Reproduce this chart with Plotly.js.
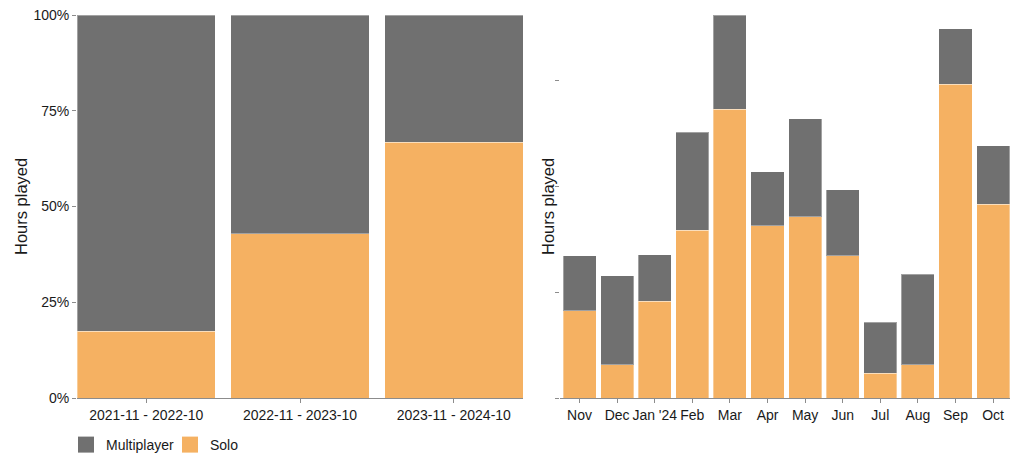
<!DOCTYPE html>
<html>
<head>
<meta charset="utf-8">
<script src="https://cdn.plot.ly/plotly-3.0.1.min.js"></script>
<style>html,body{margin:0;padding:0;background:#fff;}#chart{width:1024px;height:469px;}</style>
</head>
<body>
<div id="chart"></div>
<script>
// Left panel: yearly share of hours played
const periods = ["2021-11 - 2022-10", "2022-11 - 2023-10", "2023-11 - 2024-10"];
const periodSolo = [0.174, 0.429, 0.668];
const periodMulti = [0.826, 0.571, 0.332];

// Right panel: monthly hours played (Nov 2023 - Oct 2024)
const months = ["Nov", "Dec", "Jan '24", "Feb", "Mar", "Apr", "May", "Jun", "Jul", "Aug", "Sep", "Oct"];
const monthSolo = [41.2, 15.7, 45.8, 79.3, 136.6, 81.5, 85.7, 67.2, 11.6, 15.7, 148.4, 91.6];
const monthMulti = [26.1, 42.0, 21.9, 46.3, 44.5, 25.5, 46.3, 31.3, 24.3, 42.8, 26.3, 27.7];

const soloColor = "#F5B162";
const multiColor = "#707070";
const FONT = "Liberation Sans, Arial, sans-serif";

const maxTotal = Math.max(...monthSolo.map((v, i) => v + monthMulti[i]));
const edge = {color: "rgba(255,255,255,0.35)", width: 1};

const traces = [
  {type: "bar", name: "Solo", x: periods, y: periodSolo, xaxis: "x", yaxis: "y",
   marker: {color: soloColor, line: edge}, width: 0.9, showlegend: false,
   hovertemplate: "%{x}<br>Solo: %{y:.0%}<extra></extra>"},
  {type: "bar", name: "Multiplayer", x: periods, y: periodMulti, xaxis: "x", yaxis: "y",
   marker: {color: multiColor, line: edge}, width: 0.9, showlegend: false,
   hovertemplate: "%{x}<br>Multiplayer: %{y:.0%}<extra></extra>"},
  {type: "bar", name: "Solo", x: months, y: monthSolo, xaxis: "x2", yaxis: "y2",
   marker: {color: soloColor, line: edge}, width: 0.88, showlegend: false},
  {type: "bar", name: "Multiplayer", x: months, y: monthMulti, xaxis: "x2", yaxis: "y2",
   marker: {color: multiColor, line: edge}, width: 0.88, showlegend: false},
  // legend entries (larger square keys)
  {type: "scatter", mode: "markers", name: "Solo", x: [null], y: [null], xaxis: "x", yaxis: "y",
   marker: {symbol: "square", size: 16, color: soloColor}, hoverinfo: "skip"},
  {type: "scatter", mode: "markers", name: "Multiplayer", x: [null], y: [null], xaxis: "x", yaxis: "y",
   marker: {symbol: "square", size: 16, color: multiColor}, hoverinfo: "skip"}
];

const axisCommon = {
  showgrid: false, zeroline: false, ticks: "outside", ticklen: 4, tickwidth: 1,
  tickcolor: "#8c8c8c", tickfont: {family: FONT, size: 14, color: "#1a1a1a"}
};

const titleFont = {family: FONT, size: 16.5, color: "#1a1a1a"};

const layout = {
  width: 1024, height: 469,
  margin: {l: 0, r: 0, t: 0, b: 0},
  paper_bgcolor: "#fff", plot_bgcolor: "#fff",
  barmode: "stack",
  font: {family: FONT, size: 14, color: "#1a1a1a"},
  xaxis: Object.assign({}, axisCommon, {
    domain: [77 / 1024, 523 / 1024], anchor: "y", type: "category",
    range: [-0.45, 2.45], showline: true, linecolor: "#8c8c8c", linewidth: 1
  }),
  yaxis: Object.assign({}, axisCommon, {
    domain: [1 - 398 / 469, 1 - 15 / 469], anchor: "x",
    range: [0, 1], tickvals: [0, 0.25, 0.5, 0.75, 1], ticktext: ["0%", "25%", "50%", "75%", "100%"],
    showline: false
  }),
  xaxis2: Object.assign({}, axisCommon, {
    domain: [560 / 1024, 1010 / 1024], anchor: "y2", type: "category",
    range: [-0.52, 11.45], showline: true, linecolor: "#8c8c8c", linewidth: 1
  }),
  yaxis2: Object.assign({}, axisCommon, {
    domain: [1 - 398 / 469, 1 - 15 / 469], anchor: "x2",
    range: [0, maxTotal], dtick: 50, showticklabels: false, showline: false
  }),
  annotations: [
    {text: "Hours played", textangle: -90, xref: "paper", yref: "paper",
     x: 21 / 1024, y: 1 - 207 / 469, xanchor: "center", yanchor: "middle", showarrow: false, font: titleFont},
    {text: "Hours played", textangle: -90, xref: "paper", yref: "paper",
     x: 548 / 1024, y: 1 - 207 / 469, xanchor: "center", yanchor: "middle", showarrow: false, font: titleFont}
  ],
  showlegend: true,
  legend: {
    orientation: "h", traceorder: "reversed",
    x: 66 / 1024, xanchor: "left", y: 1 - 445 / 469, yanchor: "middle",
    entrywidth: 59, entrywidthmode: "pixels",
    font: {family: FONT, size: 14, color: "#1a1a1a"}, bgcolor: "rgba(0,0,0,0)"
  }
};

Plotly.newPlot("chart", traces, layout, {displayModeBar: false, responsive: false});
</script>
</body>
</html>
